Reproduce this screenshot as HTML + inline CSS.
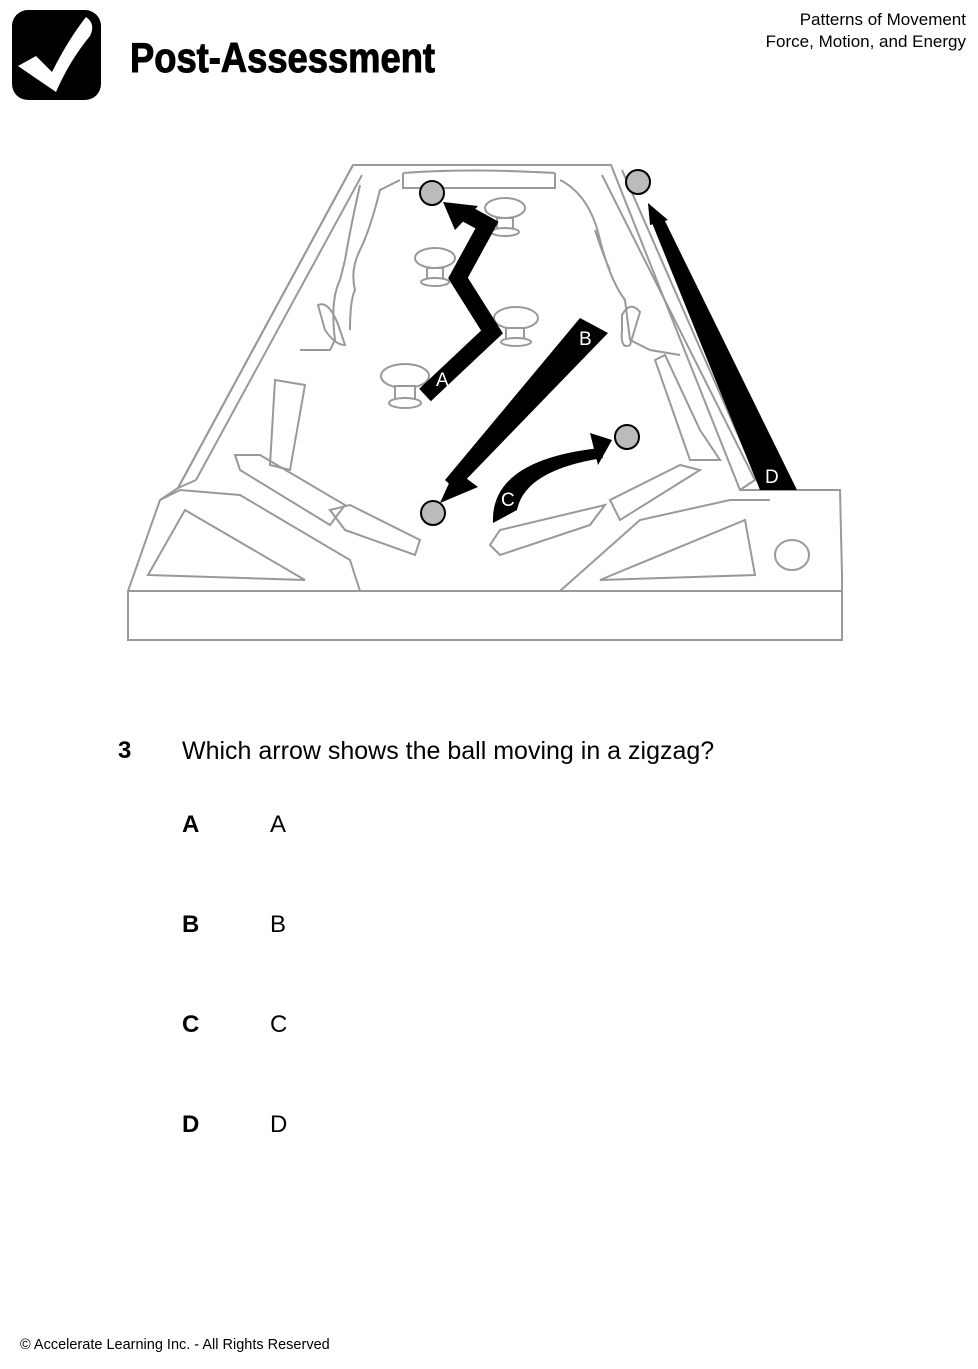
<!DOCTYPE html>
<html><head><meta charset="utf-8"><style>
body{margin:0;width:978px;height:1369px;position:relative;background:#fff;font-family:"Liberation Sans",sans-serif;color:#000;overflow:hidden}
.t{position:absolute;white-space:nowrap}
</style></head><body>
<div class="t" style="right:12px;top:9px;font-size:17px;text-align:right;line-height:22px">Patterns of Movement<br>Force, Motion, and Energy</div>
<svg style="position:absolute;left:0;top:0" width="978" height="700" viewBox="0 0 978 700">
<rect x="12" y="10" width="89" height="90" rx="16" fill="#000"/>
<path d="M18 66 L36 56 L52 72 Q68 40 86 17 Q96 24 90 36 Q70 60 56 92 Z" fill="#fff"/>
<text x="130" y="72" font-family="Liberation Sans Narrow, Liberation Sans, sans-serif" font-weight="bold" font-size="42" stroke="#000" stroke-width="1" textLength="305" lengthAdjust="spacingAndGlyphs">Post-Assessment</text>
<g fill="none" stroke="#999" stroke-width="2">
<path d="M353 165 L611 165 L740 490 L840 490 L842 575 L842 640 L128 640 L128 591 L160 500 L178 488 Z"/>
<path d="M128 591 L842 591"/>
<path d="M178 488 L353 165"/>
<path d="M196 480 L362 175 M602 175 L755 480 L740 490 M196 480 L178 488 M622 170 L760 485"/>
<path d="M160 500 L180 490 L240 495 L350 560 L360 591 M148 575 L305 580 L185 510 Z"/>
<path d="M560 591 L640 520 L730 500 L770 500 M600 580 L755 575 L745 520 Z"/>
<ellipse cx="792" cy="555" rx="17" ry="15"/>
<path d="M403 173 L403 188 L555 188 L555 173 M403 173 Q470 168 555 173"/>
<path d="M360 185 Q350 230 345 260 L340 280 Q330 300 335 340 L330 350 L300 350 M400 180 L380 190 Q370 230 360 250 Q350 270 355 290 Q350 300 350 330"/>
<path d="M560 180 Q590 195 600 240 Q610 280 625 300 L630 340 L650 350 L680 355 M595 230 Q605 260 610 270"/>
<path d="M318 305 Q330 300 340 330 L345 345 Q335 345 325 330 Z M622 315 Q630 300 640 312 L630 345 Q620 350 622 330 Z"/>
<path d="M275 380 L305 385 L290 470 L270 465 Z M655 360 L665 355 L700 430 L720 460 L690 460 Z"/>
<path d="M235 455 L240 470 L330 525 L345 505 L260 455 Z M330 510 L345 530 L415 555 L420 540 L350 505 Z"/>
<path d="M680 465 L700 470 L620 520 L610 500 Z M490 545 L500 555 L590 525 L605 505 L500 530 Z"/>
<g fill="#fff"><ellipse cx="505" cy="208" rx="20" ry="10"/><rect x="497" y="218" width="16" height="12"/><ellipse cx="505" cy="232" rx="14" ry="4"/>
<ellipse cx="435" cy="258" rx="20" ry="10"/><rect x="427" y="268" width="16" height="12"/><ellipse cx="435" cy="282" rx="14" ry="4"/>
<ellipse cx="516" cy="318" rx="22" ry="11"/><rect x="506" y="328" width="18" height="12"/><ellipse cx="516" cy="342" rx="15" ry="4"/>
<ellipse cx="405" cy="376" rx="24" ry="12"/><rect x="395" y="386" width="20" height="14"/><ellipse cx="405" cy="403" rx="16" ry="5"/></g>
</g>
<g fill="#000">
<polyline points="425,395 492,332 458,278 487,225 465,213" fill="none" stroke="#000" stroke-width="17" stroke-linejoin="miter"/>
<polygon points="443,202 478,206 455,230"/>
<polygon points="580,318 608,333 456,490 445,480"/>
<polygon points="440,503 455,470 478,487"/>
<path d="M493 523 Q490 460 600 448 L603 458 Q525 470 517 510 Z"/>
<polygon points="612,440 590,433 598,465"/>
<polygon points="760,490 797,490 662,215 650,218"/>
<polygon points="648,203 668,220 650,225"/>
</g>
<g fill="#fff" font-family="Liberation Sans, sans-serif" font-size="19">
<text x="436" y="386">A</text><text x="579" y="345">B</text><text x="501" y="506">C</text><text x="765" y="483">D</text>
</g>
<g fill="#bbb" stroke="#000" stroke-width="2">
<circle cx="432" cy="193" r="12"/><circle cx="638" cy="182" r="12"/><circle cx="627" cy="437" r="12"/><circle cx="433" cy="513" r="12"/>
</g>
</svg>
<div class="t" style="left:118px;top:737px;font-size:24px;font-weight:bold">3</div>
<div class="t" style="left:182px;top:737px;font-size:25px">Which arrow shows the ball moving in a zigzag?</div>
<div class="t" style="left:182px;top:811px;font-size:24px;font-weight:bold">A</div><div class="t" style="left:270px;top:811px;font-size:24px">A</div>
<div class="t" style="left:182px;top:911px;font-size:24px;font-weight:bold">B</div><div class="t" style="left:270px;top:911px;font-size:24px">B</div>
<div class="t" style="left:182px;top:1011px;font-size:24px;font-weight:bold">C</div><div class="t" style="left:270px;top:1011px;font-size:24px">C</div>
<div class="t" style="left:182px;top:1111px;font-size:24px;font-weight:bold">D</div><div class="t" style="left:270px;top:1111px;font-size:24px">D</div>
<div class="t" style="left:20px;top:1337px;font-size:14.5px">© Accelerate Learning Inc. - All Rights Reserved</div>
</body></html>
